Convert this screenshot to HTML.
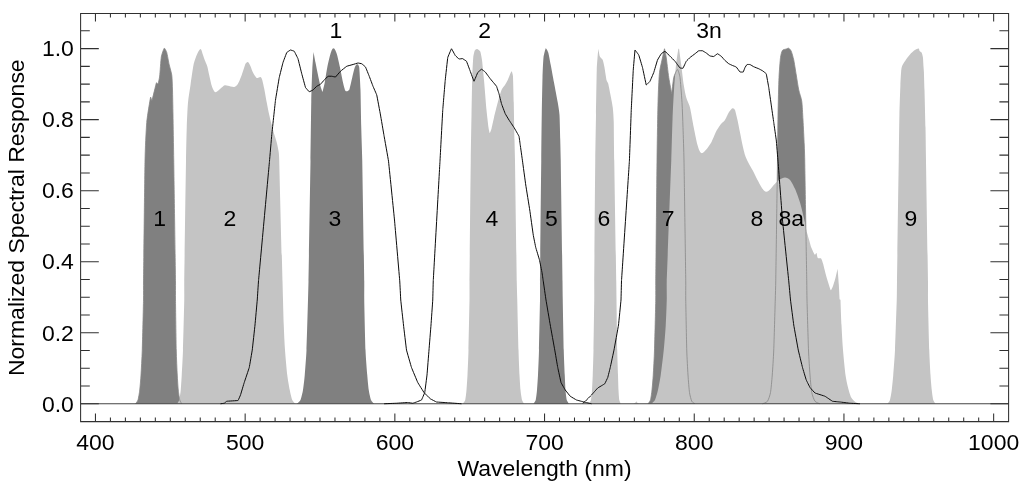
<!DOCTYPE html>
<html lang="en"><head><meta charset="utf-8"><title>Normalized Spectral Response</title>
<style>html,body{margin:0;padding:0;background:#fff}body{width:1024px;height:485px;overflow:hidden}svg{display:block}text{font-family:"Liberation Sans",sans-serif;font-size:22.7px;fill:#000}</style></head><body>
<svg width="1024" height="485" viewBox="0 0 1024 485">
<rect width="1024" height="485" fill="#fff"/>
<path d="M135.50,403.75C135.50,403.75 137.60,401.29 138.00,400.00C138.40,398.71 139.39,393.02 139.75,390.00C140.11,386.98 140.72,379.51 141.00,375.00C141.28,370.49 142.00,357.51 142.25,350.00C142.50,342.49 143.40,305.70 143.50,300.00C143.60,294.30 143.44,286.70 143.50,281.00C143.56,275.30 144.76,172.56 145.00,161.00C145.24,149.44 146.08,130.21 146.75,122.50C147.42,114.79 150.60,97.00 150.60,97.00C150.60,97.00 151.98,100.76 152.00,100.70C152.02,100.64 156.21,83.32 156.40,82.80C156.59,82.28 157.78,84.46 158.00,84.00C158.22,83.54 159.40,78.44 159.70,76.00C160.00,73.56 160.85,59.73 161.30,57.00C161.75,54.27 163.80,48.62 164.25,48.25C164.70,47.88 166.33,51.08 166.75,52.50C167.17,53.92 168.58,61.98 169.25,65.00C169.92,68.02 171.35,71.93 171.75,75.00C172.15,78.07 172.36,85.50 172.50,90.00C172.64,94.50 172.87,107.50 173.00,115.00C173.13,122.50 173.54,147.20 173.75,161.00C173.96,174.80 175.43,275.30 175.50,281.00C175.57,286.70 175.44,294.30 175.50,300.00C175.56,305.70 176.07,342.50 176.25,350.00C176.43,357.50 177.02,370.50 177.25,375.00C177.48,379.50 177.95,386.98 178.25,390.00C178.55,393.02 179.44,398.76 179.75,400.00C180.06,401.24 181.75,403.75 181.75,403.75Z" fill="#808080"/>
<path d="M296.75,403.75C296.75,403.75 299.84,401.45 300.50,400.00C301.16,398.55 302.48,393.05 303.00,390.00C303.52,386.95 304.36,379.51 304.75,375.00C305.14,370.49 306.17,357.51 306.50,350.00C306.83,342.49 307.83,305.70 308.00,300.00C308.17,294.30 308.40,286.70 308.50,281.00C308.60,275.30 310.23,178.55 310.50,161.00C310.77,143.45 311.06,112.25 311.25,102.50C311.44,92.75 312.01,75.41 312.25,70.00C312.49,64.59 313.50,52.00 313.50,52.00C313.50,52.00 314.88,59.35 315.50,62.50C316.12,65.65 317.29,71.62 318.00,75.00C318.71,78.38 320.03,84.48 320.50,86.25C320.97,88.02 322.48,92.02 322.50,92.00C322.52,91.98 324.19,85.38 324.75,82.50C325.31,79.62 326.42,71.66 327.25,67.50C328.08,63.34 329.92,55.54 330.50,53.75C331.08,51.96 332.23,48.25 333.50,48.25C334.77,48.25 336.14,51.93 336.75,53.75C337.36,55.57 339.10,63.36 340.00,67.50C340.90,71.64 342.46,80.10 343.00,82.50C343.54,84.90 344.92,89.81 345.20,90.40C345.48,90.99 346.55,91.42 347.20,91.30C347.85,91.18 349.11,90.38 349.40,89.60C349.69,88.82 351.52,80.51 352.25,77.50C352.98,74.49 354.32,68.65 354.75,67.50C355.18,66.35 356.12,64.25 357.25,64.25C358.38,64.25 359.11,66.36 359.25,67.50C359.39,68.64 360.27,83.24 360.50,90.00C360.73,96.76 361.00,117.45 361.25,127.50C361.50,137.55 362.05,150.95 362.25,161.00C362.45,171.05 364.17,275.30 364.25,281.00C364.33,286.70 364.15,294.30 364.25,300.00C364.35,305.70 365.20,342.49 365.50,350.00C365.80,357.51 366.88,370.49 367.25,375.00C367.62,379.51 368.29,386.96 368.75,390.00C369.21,393.04 370.45,398.62 371.00,400.00C371.55,401.38 374.25,403.75 374.25,403.75Z" fill="#808080"/>
<path d="M533.50,403.75C533.50,403.75 535.43,401.27 535.75,400.00C536.07,398.73 536.73,393.01 537.00,390.00C537.27,386.99 537.77,379.50 538.00,375.00C538.23,370.50 538.80,357.50 539.00,350.00C539.20,342.50 539.92,305.70 540.00,300.00C540.08,294.30 539.95,286.70 540.00,281.00C540.05,275.30 541.10,174.80 541.25,161.00C541.40,147.20 541.58,126.25 541.75,115.00C541.92,103.75 542.32,83.50 542.50,77.50C542.68,71.50 543.18,60.34 543.50,57.50C543.82,54.66 545.48,48.53 545.75,48.25C546.02,47.97 547.83,51.08 548.25,52.50C548.67,53.92 550.03,61.24 550.75,65.00C551.47,68.76 553.02,77.25 554.00,82.50C554.98,87.75 557.12,98.77 557.75,102.50C558.38,106.23 559.25,111.22 559.50,115.00C559.75,118.78 560.08,133.70 560.25,140.00C560.42,146.30 560.65,154.70 560.75,161.00C560.85,167.30 562.42,275.30 562.50,281.00C562.58,286.70 562.65,294.30 562.75,300.00C562.85,305.70 563.55,342.50 563.75,350.00C563.95,357.50 564.55,370.50 564.75,375.00C564.95,379.50 565.26,386.99 565.50,390.00C565.74,393.01 566.43,398.73 566.75,400.00C567.07,401.27 569.00,403.75 569.00,403.75Z" fill="#808080"/>
<path d="M648.00,403.75C648.00,403.75 650.12,401.30 650.50,400.00C650.88,398.70 651.67,393.02 652.00,390.00C652.33,386.98 652.97,379.51 653.25,375.00C653.53,370.49 654.25,357.51 654.50,350.00C654.75,342.49 655.65,305.70 655.75,300.00C655.85,294.30 655.70,286.70 655.75,281.00C655.80,275.30 656.89,171.05 657.00,161.00C657.11,150.95 657.32,137.25 657.50,127.50C657.68,117.75 658.00,101.76 658.25,95.00C658.50,88.24 659.09,76.30 659.50,72.50C659.91,68.70 661.29,63.38 662.00,60.00C662.71,56.62 664.50,48.75 664.50,48.75C664.50,48.75 665.86,54.85 666.25,57.50C666.64,60.15 668.01,72.60 668.75,77.50C669.49,82.40 671.75,93.75 671.75,93.75C671.75,93.75 673.14,80.08 673.75,77.50C674.36,74.92 676.93,69.50 677.50,69.50C678.07,69.50 679.66,75.01 680.00,77.50C680.34,79.99 681.55,95.01 682.00,102.50C682.45,109.99 682.74,120.00 683.00,127.50C683.26,135.00 683.82,150.95 684.00,161.00C684.18,171.05 685.68,275.30 685.75,281.00C685.82,286.70 685.67,294.30 685.75,300.00C685.83,305.70 686.52,342.49 686.75,350.00C686.98,357.51 687.66,369.74 688.00,375.00C688.34,380.26 689.12,389.82 689.50,392.50C689.88,395.18 691.21,400.14 691.75,401.25C692.29,402.36 695.00,403.75 695.00,403.75Z" fill="#808080"/>
<path d="M762.50,403.75C762.50,403.75 766.53,402.62 767.50,401.25C768.47,399.88 770.01,395.23 770.50,392.50C770.99,389.77 771.85,380.26 772.25,375.00C772.65,369.74 773.45,357.51 773.75,350.00C774.05,342.49 775.08,305.70 775.25,300.00C775.42,294.30 775.66,286.70 775.75,281.00C775.84,275.30 777.31,174.80 777.50,161.00C777.69,147.20 777.80,126.25 778.00,115.00C778.20,103.75 778.74,83.51 779.00,77.50C779.26,71.49 780.23,59.66 780.50,57.50C780.77,55.34 781.71,51.53 782.40,50.50C783.09,49.47 785.51,49.26 786.25,49.00C786.99,48.74 788.04,47.93 788.75,48.25C789.46,48.57 790.79,50.17 791.25,51.25C791.71,52.33 793.19,57.33 793.75,60.00C794.31,62.67 795.50,70.50 796.25,75.00C797.00,79.50 798.03,86.58 798.75,90.00C799.47,93.42 801.26,97.79 801.75,101.25C802.24,104.71 802.68,114.37 803.00,120.00C803.32,125.63 804.05,140.20 804.25,145.00C804.45,149.80 804.66,156.20 804.75,161.00C804.84,165.80 806.66,275.30 806.75,281.00C806.84,286.70 806.86,294.30 807.00,300.00C807.14,305.70 808.20,342.49 808.50,350.00C808.80,357.51 809.60,369.74 810.00,375.00C810.40,380.26 811.23,389.75 811.75,392.50C812.27,395.25 814.01,399.90 815.00,401.25C815.99,402.60 820.00,403.75 820.00,403.75Z" fill="#808080"/>
<path d="M177.25,403.75C177.25,403.75 178.94,401.24 179.25,400.00C179.56,398.76 180.45,393.02 180.75,390.00C181.05,386.98 181.50,379.50 181.75,375.00C182.00,370.50 182.75,357.51 183.00,350.00C183.25,342.49 184.15,305.70 184.25,300.00C184.35,294.30 184.18,286.70 184.25,281.00C184.32,275.30 185.84,171.05 186.00,161.00C186.16,150.95 186.49,135.00 186.75,127.50C187.01,120.00 187.53,107.78 188.00,102.50C188.47,97.22 189.73,90.25 190.50,85.00C191.27,79.75 192.86,68.09 193.50,65.00C194.14,61.91 195.90,56.94 196.75,55.00C197.60,53.06 199.44,49.00 200.50,49.00C201.56,49.00 202.40,53.43 203.00,55.00C203.60,56.57 204.21,58.73 204.80,60.30C205.39,61.87 206.74,64.50 207.30,66.40C207.86,68.30 208.67,72.78 209.30,75.50C209.93,78.22 211.16,84.09 211.80,86.00C212.44,87.91 213.98,91.37 214.80,92.00C215.62,92.63 217.15,91.33 218.00,90.75C218.85,90.17 223.24,86.00 224.25,85.50C225.26,85.00 226.88,85.58 228.00,85.75C229.12,85.92 232.79,87.29 234.25,87.00C235.71,86.71 237.21,85.01 238.00,83.75C238.79,82.49 240.75,77.67 241.75,75.00C242.75,72.33 245.10,64.58 245.50,63.75C245.90,62.92 247.18,61.59 248.00,62.00C248.82,62.41 249.86,64.91 250.50,66.25C251.14,67.59 252.06,70.74 253.00,72.50C253.94,74.26 255.75,77.40 256.75,78.00C257.75,78.60 259.52,76.64 260.50,77.00C261.48,77.36 261.93,79.01 262.25,80.00C262.57,80.99 263.72,86.11 264.25,88.75C264.78,91.39 266.03,98.74 266.75,102.50C267.47,106.26 268.40,111.27 269.25,115.00C270.10,118.73 271.97,126.22 273.00,130.00C274.03,133.78 275.99,139.54 276.75,142.50C277.51,145.46 278.41,149.97 278.75,152.50C279.09,155.03 279.18,158.45 279.25,161.00C279.32,163.55 282.35,275.30 282.50,281.00C282.65,286.70 282.84,294.30 283.00,300.00C283.16,305.70 283.45,317.50 283.75,325.00C284.05,332.50 284.48,342.51 285.00,350.00C285.52,357.49 286.71,370.47 287.25,375.00C287.79,379.53 289.14,386.97 289.75,390.00C290.36,393.03 291.68,398.63 292.25,400.00C292.82,401.37 295.50,403.75 295.50,403.75Z" fill="#c4c4c4"/>
<path d="M462.75,403.75C462.75,403.75 464.89,401.30 465.25,400.00C465.61,398.70 466.23,393.01 466.50,390.00C466.77,386.99 467.27,379.50 467.50,375.00C467.73,370.50 468.30,357.50 468.50,350.00C468.70,342.50 469.42,305.70 469.50,300.00C469.58,294.30 469.45,286.70 469.50,281.00C469.55,275.30 470.58,174.80 470.75,161.00C470.92,147.20 471.30,126.25 471.50,115.00C471.70,103.75 472.07,83.50 472.25,77.50C472.43,71.50 473.05,59.61 473.25,57.50C473.45,55.39 474.41,51.38 474.75,50.60C475.09,49.82 476.17,48.76 477.00,48.90C477.83,49.04 479.74,50.36 480.25,51.50C480.76,52.64 481.66,57.42 482.00,60.00C482.34,62.58 483.46,73.99 484.00,80.00C484.54,86.01 486.00,104.74 486.50,110.00C487.00,115.26 488.26,125.75 488.50,127.50C488.74,129.25 489.71,133.23 489.75,133.25C489.79,133.27 491.12,130.15 491.50,128.75C491.88,127.35 493.20,120.86 494.00,117.50C494.80,114.14 496.72,106.28 497.75,102.50C498.78,98.72 500.73,91.84 501.50,90.00C502.27,88.16 504.43,85.81 505.25,84.50C506.07,83.19 507.10,81.40 507.75,80.00C508.40,78.60 509.89,74.55 510.25,73.75C510.61,72.95 511.57,71.08 511.75,71.25C511.93,71.42 512.90,74.71 513.00,76.25C513.10,77.79 513.56,94.62 513.75,102.50C513.94,110.38 514.37,133.70 514.50,140.00C514.63,146.30 514.90,154.70 515.00,161.00C515.10,167.30 516.66,275.30 516.75,281.00C516.84,286.70 517.11,294.30 517.25,300.00C517.39,305.70 518.27,342.50 518.50,350.00C518.73,357.50 519.27,370.50 519.50,375.00C519.73,379.50 520.20,386.98 520.50,390.00C520.80,393.02 521.69,398.76 522.00,400.00C522.31,401.24 524.00,403.75 524.00,403.75Z" fill="#c4c4c4"/>
<path d="M589.00,403.75C589.00,403.75 590.73,401.25 591.00,400.00C591.27,398.75 591.79,393.01 592.00,390.00C592.21,386.99 592.58,379.50 592.75,375.00C592.92,370.50 593.35,357.50 593.50,350.00C593.65,342.50 594.19,305.70 594.25,300.00C594.31,294.30 594.21,286.70 594.25,281.00C594.29,275.30 595.10,174.80 595.25,161.00C595.40,147.20 595.78,128.50 596.00,115.00C596.22,101.50 596.62,74.51 596.75,70.00C596.88,65.49 597.60,56.88 597.75,55.00C597.90,53.12 598.50,48.75 598.50,48.75C598.50,48.75 599.24,54.90 599.75,56.25C600.26,57.60 602.19,58.67 602.75,60.00C603.31,61.33 604.07,65.23 604.50,67.50C604.93,69.77 606.22,78.79 606.50,80.00C606.78,81.21 607.92,82.55 608.25,83.75C608.58,84.95 609.68,90.74 610.25,93.75C610.82,96.76 612.24,103.34 612.75,107.50C613.26,111.66 613.62,117.99 613.75,122.50C613.88,127.01 614.07,149.45 614.25,161.00C614.43,172.55 616.16,275.30 616.25,281.00C616.34,286.70 616.42,294.30 616.50,300.00C616.58,305.70 617.10,342.50 617.25,350.00C617.40,357.50 617.86,370.50 618.00,375.00C618.14,379.50 618.35,387.00 618.50,390.00C618.65,393.00 619.05,398.80 619.25,400.00C619.45,401.20 620.75,403.75 620.75,403.75Z" fill="#c4c4c4"/>
<path d="M651.25,403.75C651.25,403.75 654.30,401.43 655.00,400.00C655.70,398.57 657.30,393.05 658.00,390.00C658.70,386.95 660.10,379.53 660.75,375.00C661.40,370.47 663.00,357.49 663.75,350.00C664.50,342.51 665.30,332.49 665.75,325.00C666.20,317.51 666.62,305.70 666.75,300.00C666.88,294.30 666.57,286.70 666.75,281.00C666.93,275.30 670.81,173.30 671.25,161.00C671.69,148.70 672.15,129.00 672.50,120.00C672.85,111.00 673.52,97.51 674.00,90.00C674.48,82.49 675.49,69.82 676.00,65.00C676.51,60.18 678.25,49.24 678.30,49.00C678.35,48.76 679.06,48.76 679.10,49.00C679.14,49.24 680.63,60.20 681.25,65.00C681.87,69.80 683.17,81.22 683.75,85.00C684.33,88.78 685.39,94.41 686.25,97.50C687.11,100.59 689.22,104.39 690.00,107.50C690.78,110.61 692.70,122.24 693.75,127.50C694.80,132.76 696.75,142.46 697.50,145.00C698.25,147.54 699.62,152.16 701.25,153.00C702.88,153.84 704.99,150.83 706.25,149.50C707.51,148.17 710.01,144.76 711.25,142.50C712.49,140.24 714.98,133.64 716.25,131.25C717.52,128.86 720.27,125.01 721.25,123.75C722.23,122.49 724.12,121.32 725.00,120.00C725.88,118.68 727.84,113.93 728.75,112.50C729.66,111.07 731.65,108.59 732.50,108.25C733.35,107.91 734.64,109.16 735.00,110.00C735.36,110.84 736.83,116.98 737.50,120.00C738.17,123.02 739.25,128.75 740.00,132.50C740.75,136.25 741.83,141.98 742.50,145.00C743.17,148.02 744.42,153.14 745.00,155.00C745.58,156.86 746.63,159.26 747.50,161.00C748.37,162.74 751.06,167.27 752.50,170.00C753.94,172.73 756.08,177.33 757.50,180.00C758.92,182.67 761.64,187.59 762.50,188.75C763.36,189.91 764.94,191.62 766.25,191.75C767.56,191.88 769.03,190.39 770.00,189.50C770.97,188.61 773.61,185.14 775.00,183.75C776.39,182.36 778.63,180.36 780.00,179.50C781.37,178.64 783.39,177.42 785.00,177.50C786.61,177.58 788.89,178.75 790.00,180.00C791.11,181.25 793.77,185.99 795.00,188.75C796.23,191.51 798.75,198.29 800.00,202.50C801.25,206.71 804.49,220.27 805.00,222.50C805.51,224.73 805.78,227.78 806.30,230.00C806.82,232.22 808.39,237.44 809.10,239.90C809.81,242.36 810.70,246.03 811.50,248.10C812.30,250.17 814.30,254.20 814.80,254.70C815.30,255.20 816.15,252.71 816.50,253.10C816.85,253.49 817.15,257.25 817.80,258.00C818.45,258.75 820.43,257.66 821.10,258.40C821.77,259.14 822.61,262.14 823.10,263.80C823.59,265.46 824.93,271.20 825.60,273.70C826.27,276.20 827.22,279.53 828.00,282.00C828.78,284.47 830.44,289.90 830.80,290.20C831.16,290.50 832.51,287.41 833.00,286.10C833.49,284.79 834.83,280.31 835.50,277.80C836.17,275.29 837.60,268.80 837.60,268.80C837.60,268.80 838.51,279.93 838.80,284.40C839.09,288.87 839.56,298.96 839.60,299.30C839.64,299.64 840.47,299.66 840.50,300.00C840.53,300.34 841.13,317.50 841.50,325.00C841.87,332.50 842.40,342.51 843.00,350.00C843.60,357.49 844.99,371.21 845.50,375.00C846.01,378.79 847.22,384.44 848.00,387.50C848.78,390.56 850.23,395.64 851.25,397.50C852.27,399.36 854.94,401.68 856.25,402.50C857.56,403.32 861.25,403.75 861.25,403.75Z" fill="#c4c4c4"/>
<path d="M887.50,403.75C887.50,403.75 889.60,401.29 890.00,400.00C890.40,398.71 891.36,393.02 891.75,390.00C892.14,386.98 892.88,379.51 893.25,375.00C893.62,370.49 894.65,357.51 895.00,350.00C895.35,342.49 896.58,305.70 896.75,300.00C896.92,294.30 896.92,286.70 897.00,281.00C897.08,275.30 898.55,174.80 898.75,161.00C898.95,147.20 899.20,124.00 899.40,115.00C899.60,106.00 900.25,88.90 900.40,85.00C900.55,81.10 900.94,73.80 901.10,72.00C901.26,70.20 901.41,67.72 902.10,66.05C902.79,64.38 905.12,60.95 906.40,59.10C907.68,57.25 909.94,54.34 911.00,53.20C912.06,52.06 914.02,50.49 915.00,49.90C915.98,49.31 917.86,48.44 918.60,48.60C919.34,48.76 919.14,50.30 919.60,50.90C920.06,51.50 921.24,51.82 921.60,52.50C921.96,53.18 922.70,55.75 922.90,57.20C923.10,58.65 923.39,64.72 923.50,66.40C923.61,68.08 923.83,70.32 923.90,72.00C923.97,73.68 924.34,84.60 924.50,90.00C924.66,95.40 925.29,117.45 925.50,127.50C925.71,137.55 925.84,150.95 926.00,161.00C926.16,171.05 927.92,275.30 928.00,281.00C928.08,286.70 927.90,294.30 928.00,300.00C928.10,305.70 929.00,342.49 929.25,350.00C929.50,357.51 930.22,370.49 930.50,375.00C930.78,379.51 931.42,386.98 931.75,390.00C932.08,393.02 932.90,398.73 933.25,400.00C933.60,401.27 935.50,403.75 935.50,403.75Z" fill="#c4c4c4"/>
<path d="M633.5,403.75L635.6,402.6L636.3,401.2L637,402.6L639,403.75Z" fill="#c4c4c4"/>
<path d="M135.50,403.75C135.50,403.75 137.60,401.29 138.00,400.00C138.40,398.71 139.39,393.02 139.75,390.00C140.11,386.98 140.72,379.51 141.00,375.00C141.28,370.49 142.00,357.51 142.25,350.00C142.50,342.49 143.40,305.70 143.50,300.00C143.60,294.30 143.44,286.70 143.50,281.00C143.56,275.30 144.76,172.56 145.00,161.00C145.24,149.44 146.08,130.21 146.75,122.50C147.42,114.79 150.60,97.00 150.60,97.00C150.60,97.00 151.98,100.76 152.00,100.70C152.02,100.64 156.21,83.32 156.40,82.80C156.59,82.28 157.78,84.46 158.00,84.00C158.22,83.54 159.40,78.44 159.70,76.00C160.00,73.56 160.85,59.73 161.30,57.00C161.75,54.27 163.80,48.62 164.25,48.25C164.70,47.88 166.33,51.08 166.75,52.50C167.17,53.92 168.58,61.98 169.25,65.00C169.92,68.02 171.35,71.93 171.75,75.00C172.15,78.07 172.36,85.50 172.50,90.00C172.64,94.50 172.87,107.50 173.00,115.00C173.13,122.50 173.54,147.20 173.75,161.00C173.96,174.80 175.43,275.30 175.50,281.00C175.57,286.70 175.44,294.30 175.50,300.00C175.56,305.70 176.07,342.50 176.25,350.00C176.43,357.50 177.02,370.50 177.25,375.00C177.48,379.50 177.95,386.98 178.25,390.00C178.55,393.02 179.44,398.76 179.75,400.00C180.06,401.24 181.75,403.75 181.75,403.75" fill="none" stroke="#878787" stroke-width="0.8"/>
<path d="M648.00,403.75C648.00,403.75 650.12,401.30 650.50,400.00C650.88,398.70 651.67,393.02 652.00,390.00C652.33,386.98 652.97,379.51 653.25,375.00C653.53,370.49 654.25,357.51 654.50,350.00C654.75,342.49 655.65,305.70 655.75,300.00C655.85,294.30 655.70,286.70 655.75,281.00C655.80,275.30 656.89,171.05 657.00,161.00C657.11,150.95 657.32,137.25 657.50,127.50C657.68,117.75 658.00,101.76 658.25,95.00C658.50,88.24 659.09,76.30 659.50,72.50C659.91,68.70 661.29,63.38 662.00,60.00C662.71,56.62 664.50,48.75 664.50,48.75C664.50,48.75 665.86,54.85 666.25,57.50C666.64,60.15 668.01,72.60 668.75,77.50C669.49,82.40 671.75,93.75 671.75,93.75C671.75,93.75 673.14,80.08 673.75,77.50C674.36,74.92 676.93,69.50 677.50,69.50C678.07,69.50 679.66,75.01 680.00,77.50C680.34,79.99 681.55,95.01 682.00,102.50C682.45,109.99 682.74,120.00 683.00,127.50C683.26,135.00 683.82,150.95 684.00,161.00C684.18,171.05 685.68,275.30 685.75,281.00C685.82,286.70 685.67,294.30 685.75,300.00C685.83,305.70 686.52,342.49 686.75,350.00C686.98,357.51 687.66,369.74 688.00,375.00C688.34,380.26 689.12,389.82 689.50,392.50C689.88,395.18 691.21,400.14 691.75,401.25C692.29,402.36 695.00,403.75 695.00,403.75" fill="none" stroke="#878787" stroke-width="0.8"/>
<path d="M762.50,403.75C762.50,403.75 766.53,402.62 767.50,401.25C768.47,399.88 770.01,395.23 770.50,392.50C770.99,389.77 771.85,380.26 772.25,375.00C772.65,369.74 773.45,357.51 773.75,350.00C774.05,342.49 775.08,305.70 775.25,300.00C775.42,294.30 775.66,286.70 775.75,281.00C775.84,275.30 777.31,174.80 777.50,161.00C777.69,147.20 777.80,126.25 778.00,115.00C778.20,103.75 778.74,83.51 779.00,77.50C779.26,71.49 780.23,59.66 780.50,57.50C780.77,55.34 781.71,51.53 782.40,50.50C783.09,49.47 785.51,49.26 786.25,49.00C786.99,48.74 788.04,47.93 788.75,48.25C789.46,48.57 790.79,50.17 791.25,51.25C791.71,52.33 793.19,57.33 793.75,60.00C794.31,62.67 795.50,70.50 796.25,75.00C797.00,79.50 798.03,86.58 798.75,90.00C799.47,93.42 801.26,97.79 801.75,101.25C802.24,104.71 802.68,114.37 803.00,120.00C803.32,125.63 804.05,140.20 804.25,145.00C804.45,149.80 804.66,156.20 804.75,161.00C804.84,165.80 806.66,275.30 806.75,281.00C806.84,286.70 806.86,294.30 807.00,300.00C807.14,305.70 808.20,342.49 808.50,350.00C808.80,357.51 809.60,369.74 810.00,375.00C810.40,380.26 811.23,389.75 811.75,392.50C812.27,395.25 814.01,399.90 815.00,401.25C815.99,402.60 820.00,403.75 820.00,403.75" fill="none" stroke="#878787" stroke-width="0.8"/>
<line x1="80.6" y1="403.75" x2="1008.6" y2="403.75" stroke="#444" stroke-width="1"/>
<path d="M220.50,403.75C220.50,403.75 224.13,403.30 224.25,403.25C224.37,403.20 226.62,401.28 226.75,401.25C226.88,401.22 237.78,400.60 238.00,400.50C238.22,400.40 240.42,395.23 240.50,395.00C240.58,394.77 244.09,383.00 244.25,382.50C244.41,382.00 249.10,368.11 249.25,367.50C249.40,366.89 252.15,350.70 252.25,350.00C252.35,349.30 254.90,326.00 255.00,325.00C255.10,324.00 257.19,300.76 257.25,300.00C257.31,299.24 258.43,281.76 258.50,281.00C258.57,280.24 269.41,162.04 269.50,161.00C269.59,159.96 271.65,136.04 271.75,135.00C271.85,133.96 275.38,100.90 275.50,100.00C275.62,99.10 279.13,78.11 279.25,77.50C279.37,76.89 282.88,62.91 283.00,62.50C283.12,62.09 286.66,52.65 286.75,52.50C286.84,52.35 290.34,50.03 290.50,50.00C290.66,49.97 294.15,51.13 294.25,51.25C294.35,51.37 297.89,58.43 298.00,58.75C298.11,59.07 301.61,73.20 301.75,73.75C301.89,74.30 305.41,87.29 305.50,87.50C305.59,87.71 309.09,91.70 309.25,91.75C309.41,91.80 312.87,90.10 313.00,90.00C313.13,89.90 316.62,86.35 316.75,86.25C316.88,86.15 320.37,84.36 320.50,84.25C320.63,84.14 324.10,80.15 324.25,80.00C324.40,79.85 327.87,76.32 328.00,76.25C328.13,76.18 331.60,76.24 331.75,76.25C331.90,76.26 335.37,77.08 335.50,77.00C335.63,76.92 340.28,71.46 340.50,71.25C340.72,71.04 346.52,66.37 346.75,66.25C346.98,66.13 352.80,64.56 353.00,64.50C353.20,64.44 357.85,63.01 358.00,63.00C358.15,62.99 361.62,63.68 361.75,63.75C361.88,63.82 365.40,66.83 365.50,67.00C365.60,67.17 369.11,75.88 369.25,76.25C369.39,76.62 372.86,85.90 373.00,86.25C373.14,86.60 376.65,94.63 376.75,95.00C376.85,95.37 380.36,114.20 380.50,115.00C380.64,115.80 383.86,134.68 384.00,135.50C384.14,136.32 388.37,159.97 388.50,161.00C388.63,162.03 394.28,217.64 394.50,220.00C394.72,222.36 399.69,280.24 399.75,281.00C399.81,281.76 400.69,299.24 400.75,300.00C400.81,300.76 403.39,324.00 403.50,325.00C403.61,326.00 406.37,349.28 406.50,350.00C406.63,350.72 411.29,366.89 411.50,367.50C411.71,368.11 417.54,382.08 417.75,382.50C417.96,382.92 423.78,392.22 424.00,392.50C424.22,392.78 430.03,398.58 430.25,398.75C430.47,398.92 436.23,401.94 436.50,402.00C436.77,402.06 447.30,402.72 447.75,402.75C448.20,402.78 461.50,403.75 461.50,403.75" fill="none" stroke="#0a0a0a" stroke-width="1" stroke-linejoin="round"/>
<path d="M384.00,403.75C384.00,403.75 396.05,403.27 396.50,403.25C396.95,403.23 407.55,402.50 407.75,402.50C407.95,402.50 412.59,403.26 412.75,403.25C412.91,403.24 416.35,402.06 416.50,402.00C416.65,401.94 421.36,400.16 421.50,400.00C421.64,399.84 424.68,392.82 424.75,392.50C424.82,392.18 426.93,375.70 427.00,375.00C427.07,374.30 428.92,351.00 429.00,350.00C429.08,349.00 430.93,326.00 431.00,325.00C431.07,324.00 432.71,300.76 432.75,300.00C432.79,299.24 433.21,281.76 433.25,281.00C433.29,280.24 439.89,163.04 440.00,161.00C440.11,158.96 442.67,111.20 442.75,110.00C442.83,108.80 445.16,80.90 445.25,80.00C445.34,79.10 447.68,57.87 447.75,57.50C447.82,57.13 451.36,48.79 451.50,48.75C451.64,48.71 455.13,55.33 455.25,55.50C455.37,55.67 458.87,58.94 459.00,59.00C459.13,59.06 462.37,58.56 462.50,58.60C462.63,58.64 466.40,61.09 466.50,61.25C466.60,61.41 470.10,70.85 470.25,71.25C470.40,71.65 473.90,81.23 474.00,81.25C474.10,81.27 477.64,72.67 477.75,72.50C477.86,72.33 481.31,69.26 481.50,69.25C481.69,69.24 485.12,71.86 485.25,72.00C485.38,72.14 490.04,78.49 490.25,78.75C490.46,79.01 496.34,85.98 496.50,86.25C496.66,86.52 498.91,93.45 499.00,93.75C499.09,94.05 501.38,103.36 501.50,103.75C501.62,104.14 505.13,113.49 505.25,113.75C505.37,114.01 508.84,119.75 509.00,120.00C509.16,120.25 513.81,127.19 514.00,127.50C514.19,127.81 518.88,135.92 519.00,136.25C519.12,136.58 520.20,144.65 520.25,145.00C520.30,145.35 522.41,160.36 522.50,161.00C522.59,161.64 525.61,184.04 525.75,185.00C525.89,185.96 529.60,209.00 529.75,210.00C529.90,211.00 533.17,234.50 533.25,235.00C533.33,235.50 535.63,247.01 535.75,247.50C535.87,247.99 539.38,259.51 539.50,260.00C539.62,260.49 541.94,272.16 542.00,272.50C542.06,272.84 543.20,280.66 543.25,281.00C543.30,281.34 545.88,299.24 546.00,300.00C546.12,300.76 550.08,324.00 550.25,325.00C550.42,326.00 554.63,349.30 554.75,350.00C554.87,350.70 557.63,366.90 557.75,367.50C557.87,368.10 560.89,382.17 561.00,382.50C561.11,382.83 565.07,389.73 565.25,390.00C565.43,390.27 570.03,396.06 570.25,396.25C570.47,396.44 576.23,399.89 576.50,400.00C576.77,400.11 583.70,401.93 584.00,402.00C584.30,402.07 591.50,403.75 591.50,403.75" fill="none" stroke="#0a0a0a" stroke-width="1" stroke-linejoin="round"/>
<path d="M582.75,403.25C582.75,403.25 585.16,401.34 585.25,401.25C585.34,401.16 591.26,395.26 591.50,395.00C591.74,394.74 597.50,388.21 597.75,388.00C598.00,387.79 604.56,383.95 604.75,383.75C604.94,383.55 607.66,377.76 607.75,377.50C607.84,377.24 610.16,367.90 610.25,367.50C610.34,367.10 613.86,350.70 614.00,350.00C614.14,349.30 618.36,326.00 618.50,325.00C618.64,324.00 620.95,300.76 621.00,300.00C621.05,299.24 621.45,281.76 621.50,281.00C621.55,280.24 629.28,163.04 629.40,161.00C629.52,158.96 631.18,111.60 631.25,110.00C631.32,108.40 633.20,70.80 633.25,70.00C633.30,69.20 634.98,50.05 635.00,50.00C635.02,49.95 638.65,54.77 638.75,55.00C638.85,55.23 642.37,66.99 642.50,67.50C642.63,68.01 646.19,84.89 646.25,85.00C646.31,85.11 649.89,81.43 650.00,81.25C650.11,81.07 653.62,72.86 653.75,72.50C653.88,72.14 657.39,60.27 657.50,60.00C657.61,59.73 661.13,53.89 661.25,53.75C661.37,53.61 664.83,51.20 665.00,51.25C665.17,51.30 669.80,56.05 670.00,56.25C670.20,56.45 674.82,61.03 675.00,61.25C675.18,61.47 679.91,67.92 680.00,68.00C680.09,68.08 682.92,68.34 683.00,68.25C683.08,68.16 686.13,61.43 686.25,61.25C686.37,61.07 689.84,57.64 690.00,57.50C690.16,57.36 694.85,53.87 695.00,53.75C695.15,53.63 698.61,50.81 698.75,50.75C698.89,50.69 702.36,50.71 702.50,50.75C702.64,50.79 706.11,52.90 706.25,53.00C706.39,53.10 709.86,55.94 710.00,56.00C710.14,56.06 713.61,56.54 713.75,56.50C713.89,56.46 717.32,53.76 717.50,53.75C717.68,53.74 721.12,56.13 721.25,56.25C721.38,56.37 724.86,60.36 725.00,60.50C725.14,60.64 728.61,63.66 728.75,63.75C728.89,63.84 732.35,65.44 732.50,65.50C732.65,65.56 736.13,66.89 736.25,67.00C736.37,67.11 739.89,71.92 740.00,72.00C740.11,72.08 743.15,72.09 743.25,72.00C743.35,71.91 744.94,67.63 745.00,67.50C745.06,67.37 746.90,64.56 747.00,64.50C747.10,64.44 749.89,64.46 750.00,64.50C750.11,64.54 753.59,66.67 753.75,66.75C753.91,66.83 758.60,68.68 758.75,68.75C758.90,68.82 762.36,70.66 762.50,70.75C762.64,70.84 766.18,73.57 766.25,73.75C766.32,73.93 768.66,86.95 768.75,87.50C768.84,88.05 771.15,104.30 771.25,105.00C771.35,105.70 773.65,121.80 773.75,122.50C773.85,123.20 776.17,139.30 776.25,140.00C776.33,140.70 777.93,160.16 778.00,161.00C778.07,161.84 782.29,217.64 782.50,220.00C782.71,222.36 788.67,280.24 788.75,281.00C788.83,281.76 790.41,299.24 790.50,300.00C790.59,300.76 793.60,324.00 793.75,325.00C793.90,326.00 798.10,349.29 798.25,350.00C798.40,350.71 802.37,367.00 802.50,367.50C802.63,368.00 806.13,379.69 806.25,380.00C806.37,380.31 809.83,387.25 810.00,387.50C810.17,387.75 814.74,392.85 815.00,393.00C815.26,393.15 824.67,396.10 825.00,396.25C825.33,396.40 832.22,401.14 832.50,401.25C832.78,401.36 839.70,401.97 840.00,402.00C840.30,402.03 849.60,403.22 850.00,403.25C850.40,403.28 860.00,403.75 860.00,403.75" fill="none" stroke="#0a0a0a" stroke-width="1" stroke-linejoin="round"/>
<path d="M80.6,13.4H1008.6V421.6H80.6ZM95.45,13.4v8.2M95.45,421.6v-8.2M110.42,13.4v4.2M110.42,421.6v-4.2M125.39,13.4v4.2M125.39,421.6v-4.2M140.36,13.4v4.2M140.36,421.6v-4.2M155.33,13.4v4.2M155.33,421.6v-4.2M170.30,13.4v4.2M170.30,421.6v-4.2M185.27,13.4v4.2M185.27,421.6v-4.2M200.24,13.4v4.2M200.24,421.6v-4.2M215.21,13.4v4.2M215.21,421.6v-4.2M230.18,13.4v4.2M230.18,421.6v-4.2M245.15,13.4v8.2M245.15,421.6v-8.2M260.12,13.4v4.2M260.12,421.6v-4.2M275.09,13.4v4.2M275.09,421.6v-4.2M290.06,13.4v4.2M290.06,421.6v-4.2M305.03,13.4v4.2M305.03,421.6v-4.2M320.00,13.4v4.2M320.00,421.6v-4.2M334.97,13.4v4.2M334.97,421.6v-4.2M349.94,13.4v4.2M349.94,421.6v-4.2M364.91,13.4v4.2M364.91,421.6v-4.2M379.88,13.4v4.2M379.88,421.6v-4.2M394.85,13.4v8.2M394.85,421.6v-8.2M409.82,13.4v4.2M409.82,421.6v-4.2M424.79,13.4v4.2M424.79,421.6v-4.2M439.76,13.4v4.2M439.76,421.6v-4.2M454.73,13.4v4.2M454.73,421.6v-4.2M469.70,13.4v4.2M469.70,421.6v-4.2M484.67,13.4v4.2M484.67,421.6v-4.2M499.64,13.4v4.2M499.64,421.6v-4.2M514.61,13.4v4.2M514.61,421.6v-4.2M529.58,13.4v4.2M529.58,421.6v-4.2M544.55,13.4v8.2M544.55,421.6v-8.2M559.52,13.4v4.2M559.52,421.6v-4.2M574.49,13.4v4.2M574.49,421.6v-4.2M589.46,13.4v4.2M589.46,421.6v-4.2M604.43,13.4v4.2M604.43,421.6v-4.2M619.40,13.4v4.2M619.40,421.6v-4.2M634.37,13.4v4.2M634.37,421.6v-4.2M649.34,13.4v4.2M649.34,421.6v-4.2M664.31,13.4v4.2M664.31,421.6v-4.2M679.28,13.4v4.2M679.28,421.6v-4.2M694.25,13.4v8.2M694.25,421.6v-8.2M709.22,13.4v4.2M709.22,421.6v-4.2M724.19,13.4v4.2M724.19,421.6v-4.2M739.16,13.4v4.2M739.16,421.6v-4.2M754.13,13.4v4.2M754.13,421.6v-4.2M769.10,13.4v4.2M769.10,421.6v-4.2M784.07,13.4v4.2M784.07,421.6v-4.2M799.04,13.4v4.2M799.04,421.6v-4.2M814.01,13.4v4.2M814.01,421.6v-4.2M828.98,13.4v4.2M828.98,421.6v-4.2M843.95,13.4v8.2M843.95,421.6v-8.2M858.92,13.4v4.2M858.92,421.6v-4.2M873.89,13.4v4.2M873.89,421.6v-4.2M888.86,13.4v4.2M888.86,421.6v-4.2M903.83,13.4v4.2M903.83,421.6v-4.2M918.80,13.4v4.2M918.80,421.6v-4.2M933.77,13.4v4.2M933.77,421.6v-4.2M948.74,13.4v4.2M948.74,421.6v-4.2M963.71,13.4v4.2M963.71,421.6v-4.2M978.68,13.4v4.2M978.68,421.6v-4.2M993.65,13.4v8.2M993.65,421.6v-8.2M80.6,403.75h18.2M1008.6,403.75h-18.2M80.6,385.99h9.2M1008.6,385.99h-9.2M80.6,368.24h9.2M1008.6,368.24h-9.2M80.6,350.48h9.2M1008.6,350.48h-9.2M80.6,332.72h18.2M1008.6,332.72h-18.2M80.6,314.96h9.2M1008.6,314.96h-9.2M80.6,297.20h9.2M1008.6,297.20h-9.2M80.6,279.45h9.2M1008.6,279.45h-9.2M80.6,261.69h18.2M1008.6,261.69h-18.2M80.6,243.93h9.2M1008.6,243.93h-9.2M80.6,226.18h9.2M1008.6,226.18h-9.2M80.6,208.42h9.2M1008.6,208.42h-9.2M80.6,190.66h18.2M1008.6,190.66h-18.2M80.6,172.90h9.2M1008.6,172.90h-9.2M80.6,155.14h9.2M1008.6,155.14h-9.2M80.6,137.39h9.2M1008.6,137.39h-9.2M80.6,119.63h18.2M1008.6,119.63h-18.2M80.6,101.87h9.2M1008.6,101.87h-9.2M80.6,84.12h9.2M1008.6,84.12h-9.2M80.6,66.36h9.2M1008.6,66.36h-9.2M80.6,48.60h18.2M1008.6,48.60h-18.2M80.6,30.84h9.2M1008.6,30.84h-9.2" fill="none" stroke="#303030" stroke-width="1.05"/>
<text transform="translate(95.45,450.40) scale(1.013,1)" text-anchor="middle">400</text>
<text transform="translate(245.15,450.40) scale(1.013,1)" text-anchor="middle">500</text>
<text transform="translate(394.85,450.40) scale(1.013,1)" text-anchor="middle">600</text>
<text transform="translate(544.55,450.40) scale(1.013,1)" text-anchor="middle">700</text>
<text transform="translate(694.25,450.40) scale(1.013,1)" text-anchor="middle">800</text>
<text transform="translate(843.95,450.40) scale(1.013,1)" text-anchor="middle">900</text>
<text transform="translate(993.65,450.40) scale(1.013,1)" text-anchor="middle">1000</text>
<text transform="translate(73.90,411.55) scale(1.013,1)" text-anchor="end">0.0</text>
<text transform="translate(73.90,340.52) scale(1.013,1)" text-anchor="end">0.2</text>
<text transform="translate(73.90,269.49) scale(1.013,1)" text-anchor="end">0.4</text>
<text transform="translate(73.90,198.46) scale(1.013,1)" text-anchor="end">0.6</text>
<text transform="translate(73.90,127.43) scale(1.013,1)" text-anchor="end">0.8</text>
<text transform="translate(73.90,56.40) scale(1.013,1)" text-anchor="end">1.0</text>
<text transform="translate(544.50,475.50) scale(1.013,1)" text-anchor="middle">Wavelength (nm)</text>
<text transform="translate(24.20,217.70) rotate(-90) scale(1.013,1)" text-anchor="middle">Normalized Spectral Response</text>
<text transform="translate(336.00,38.20) scale(1.013,1)" text-anchor="middle">1</text>
<text transform="translate(484.60,38.20) scale(1.013,1)" text-anchor="middle">2</text>
<text transform="translate(709.10,38.20) scale(1.013,1)" text-anchor="middle">3n</text>
<text transform="translate(159.60,226.20) scale(1.013,1)" text-anchor="middle">1</text>
<text transform="translate(230.00,226.20) scale(1.013,1)" text-anchor="middle">2</text>
<text transform="translate(335.00,226.20) scale(1.013,1)" text-anchor="middle">3</text>
<text transform="translate(492.00,226.20) scale(1.013,1)" text-anchor="middle">4</text>
<text transform="translate(551.50,226.20) scale(1.013,1)" text-anchor="middle">5</text>
<text transform="translate(604.00,226.20) scale(1.013,1)" text-anchor="middle">6</text>
<text transform="translate(668.25,226.20) scale(1.013,1)" text-anchor="middle">7</text>
<text transform="translate(757.00,226.20) scale(1.013,1)" text-anchor="middle">8</text>
<text transform="translate(791.25,226.20) scale(1.013,1)" text-anchor="middle">8a</text>
<text transform="translate(911.00,226.20) scale(1.013,1)" text-anchor="middle">9</text>
</svg></body></html>
